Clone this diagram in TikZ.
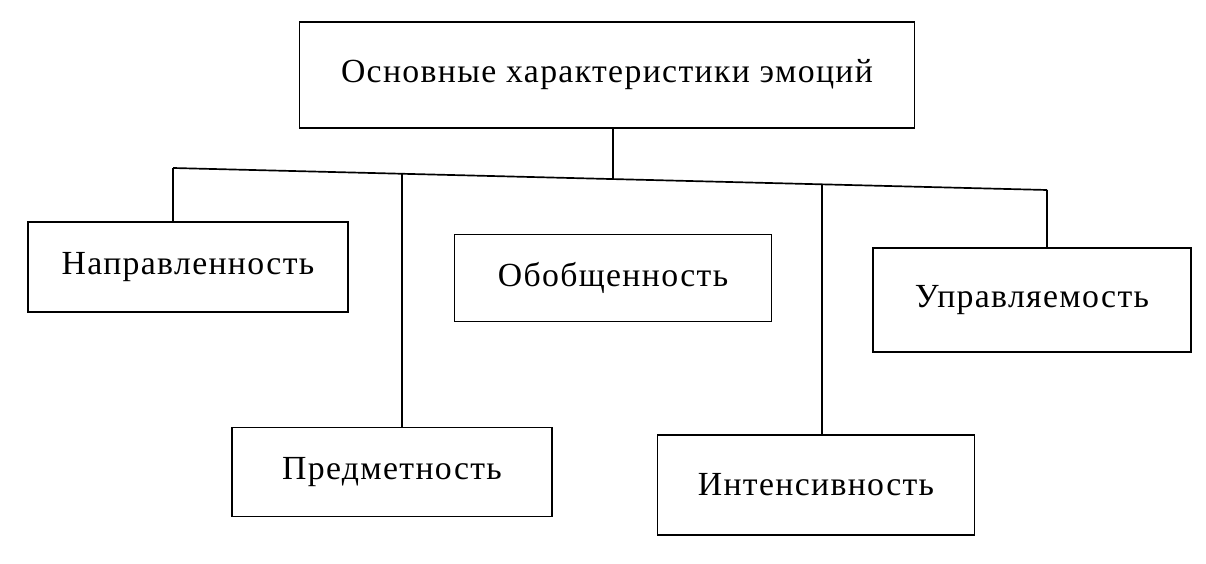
\documentclass[tikz,border=0pt]{standalone}
\usepackage{fontspec}
\setmainfont[LetterSpace=4]{Liberation Serif}
\tikzstyle{featBox}=[draw,line width=1.2pt,inner sep=2pt,font=\fontsize{24}{28}\selectfont]
\tikzstyle{branchLine}=[line width=1.2pt]
\begin{document}
\begin{tikzpicture}[x=0.025cm,y=-0.025cm]
    \useasboundingbox (0,0) rectangle (1206,564);
    % Root
    \node[featBox,minimum width=15.375cm,minimum height=2.65cm] (root) at (607,75) {Основные характеристики эмоций};

    % Features
    \node[featBox,minimum width=8cm,minimum height=2.25cm] (direct) at (188,267) {Направленность};
    \node[featBox,minimum width=7.925cm,minimum height=2.175cm] (general) at (613,278) {Обобщенность};
    \node[featBox,minimum width=7.95cm,minimum height=2.6cm] (control) at (1032,300) {Управляемость};
    \node[featBox,minimum width=8cm,minimum height=2.225cm] (object) at (392,472) {Предметность};
    \node[featBox,minimum width=7.925cm,minimum height=2.5cm] (intens) at (816,485) {Интенсивность};

    % Bus
    \coordinate (busL) at (173,168);
    \coordinate (busR) at (1047,190);
    \coordinate (busM) at (613,179);
    \coordinate (busO) at (402,173);
    \coordinate (busI) at (822,185);
    \draw[branchLine] (root.south -| busM) -- (busM);
    \draw[branchLine] (busL) -- (busR);
    \draw[branchLine] (busL) -- (busL |- direct.north);
    \draw[branchLine] (busO) -- (busO |- object.north);
    \draw[branchLine] (busI) -- (busI |- intens.north);
    \draw[branchLine] (busR) -- (busR |- control.north);
\end{tikzpicture}
\end{document}
